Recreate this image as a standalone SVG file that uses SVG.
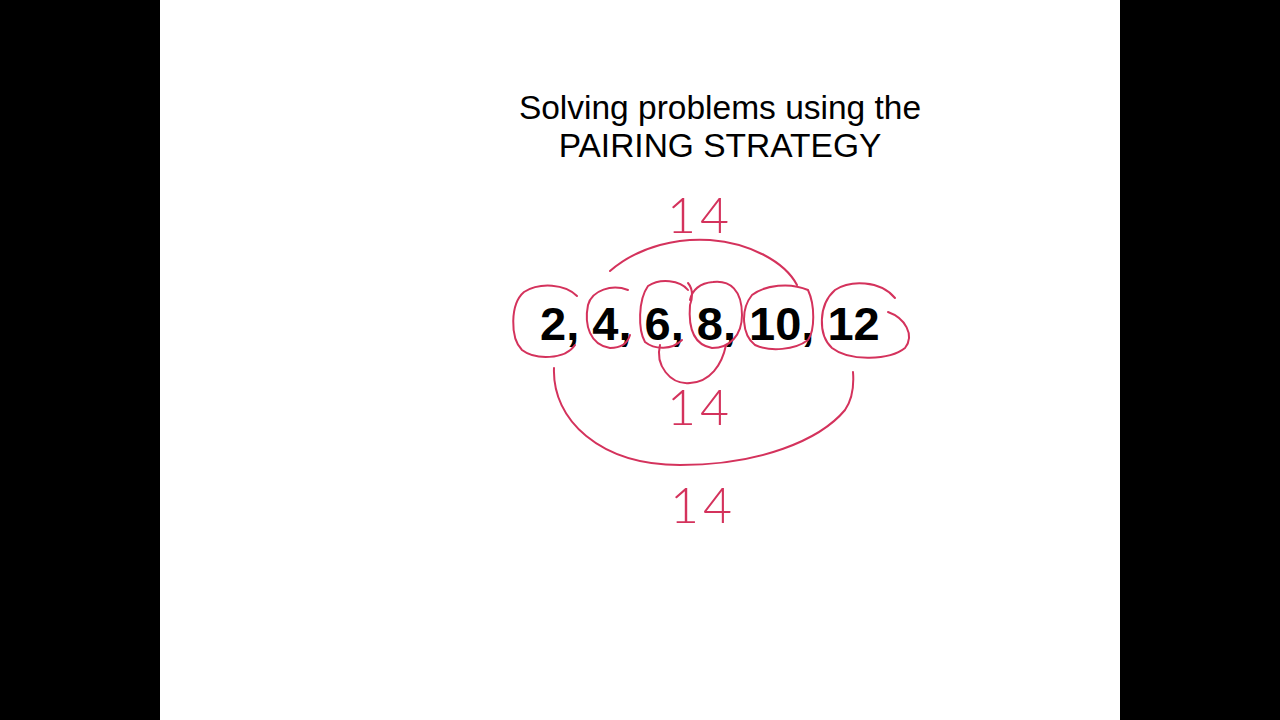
<svg xmlns="http://www.w3.org/2000/svg" width="1280" height="720" viewBox="0 0 1280 720">
<style>
.ink{fill:none;stroke:#d4325c;stroke-width:2;stroke-linecap:round;stroke-linejoin:round}
.title{font-family:"Liberation Sans",Arial,sans-serif;font-size:33.5px;fill:#000;text-anchor:middle}
.num{font-family:"Liberation Sans",Arial,sans-serif;font-size:47px;font-weight:bold;fill:#000}
.hand{font-family:Lato,"DejaVu Sans",sans-serif;font-weight:300;font-size:50px;fill:#d4325c;text-anchor:middle;letter-spacing:4px}
</style>
<rect x="0" y="0" width="1280" height="720" fill="#000"/>
<rect x="160" y="0" width="960" height="720" fill="#fff"/>
<g id="title">
<text class="title" x="720" y="119">Solving problems using the</text>
<text class="title" x="720" y="157">PAIRING STRATEGY</text>
</g>
<g id="numbers">
<text class="num" x="540" y="340">2, 4, 6, 8, 10, 12</text>
</g>
<g id="circles">
<path class="ink" d="M577,296 C565,284 540,282 524,292 C510,304 510,338 522,350 C535,360 565,360 575,345"/>
<path class="ink" d="M628,290 C612,284 592,290 588,305 C584,325 590,345 610,348 C622,348 628,342 630,335"/>
<path class="ink" d="M688,290 C680,280 660,278 648,286 C638,300 638,330 645,342 C655,350 672,350 682,340"/>
<path class="ink" d="M688,283 C694,290 692,300 690,305 C688,330 695,345 712,348 C730,348 742,335 742,315 C742,290 730,280 713,282 C700,283 692,290 690,300"/>
<path class="ink" d="M808,290 C790,282 765,285 752,295 C740,310 742,335 755,345 C770,352 795,350 808,340 C815,330 815,305 808,290"/>
<path class="ink" d="M895,298 C880,280 850,280 835,290 C818,305 818,335 832,348 C850,362 890,360 905,348 C915,335 905,318 888,312"/>
</g>
<g id="connectors">
<path class="ink" d="M610,271 C640,245 680,238 710,240 C750,243 785,262 797,285"/>
<path class="ink" d="M660,345 C655,365 670,385 690,383 C710,382 722,365 726,345"/>
<path class="ink" d="M554,368 C552,420 600,465 680,465 C760,465 820,440 845,410 C852,400 854,385 853,372"/>
</g>
<g id="labels">
<text class="hand" x="700" y="233">14</text>
<text class="hand" x="700" y="425">14</text>
<text class="hand" x="703" y="523">14</text>
</g>
</svg>
